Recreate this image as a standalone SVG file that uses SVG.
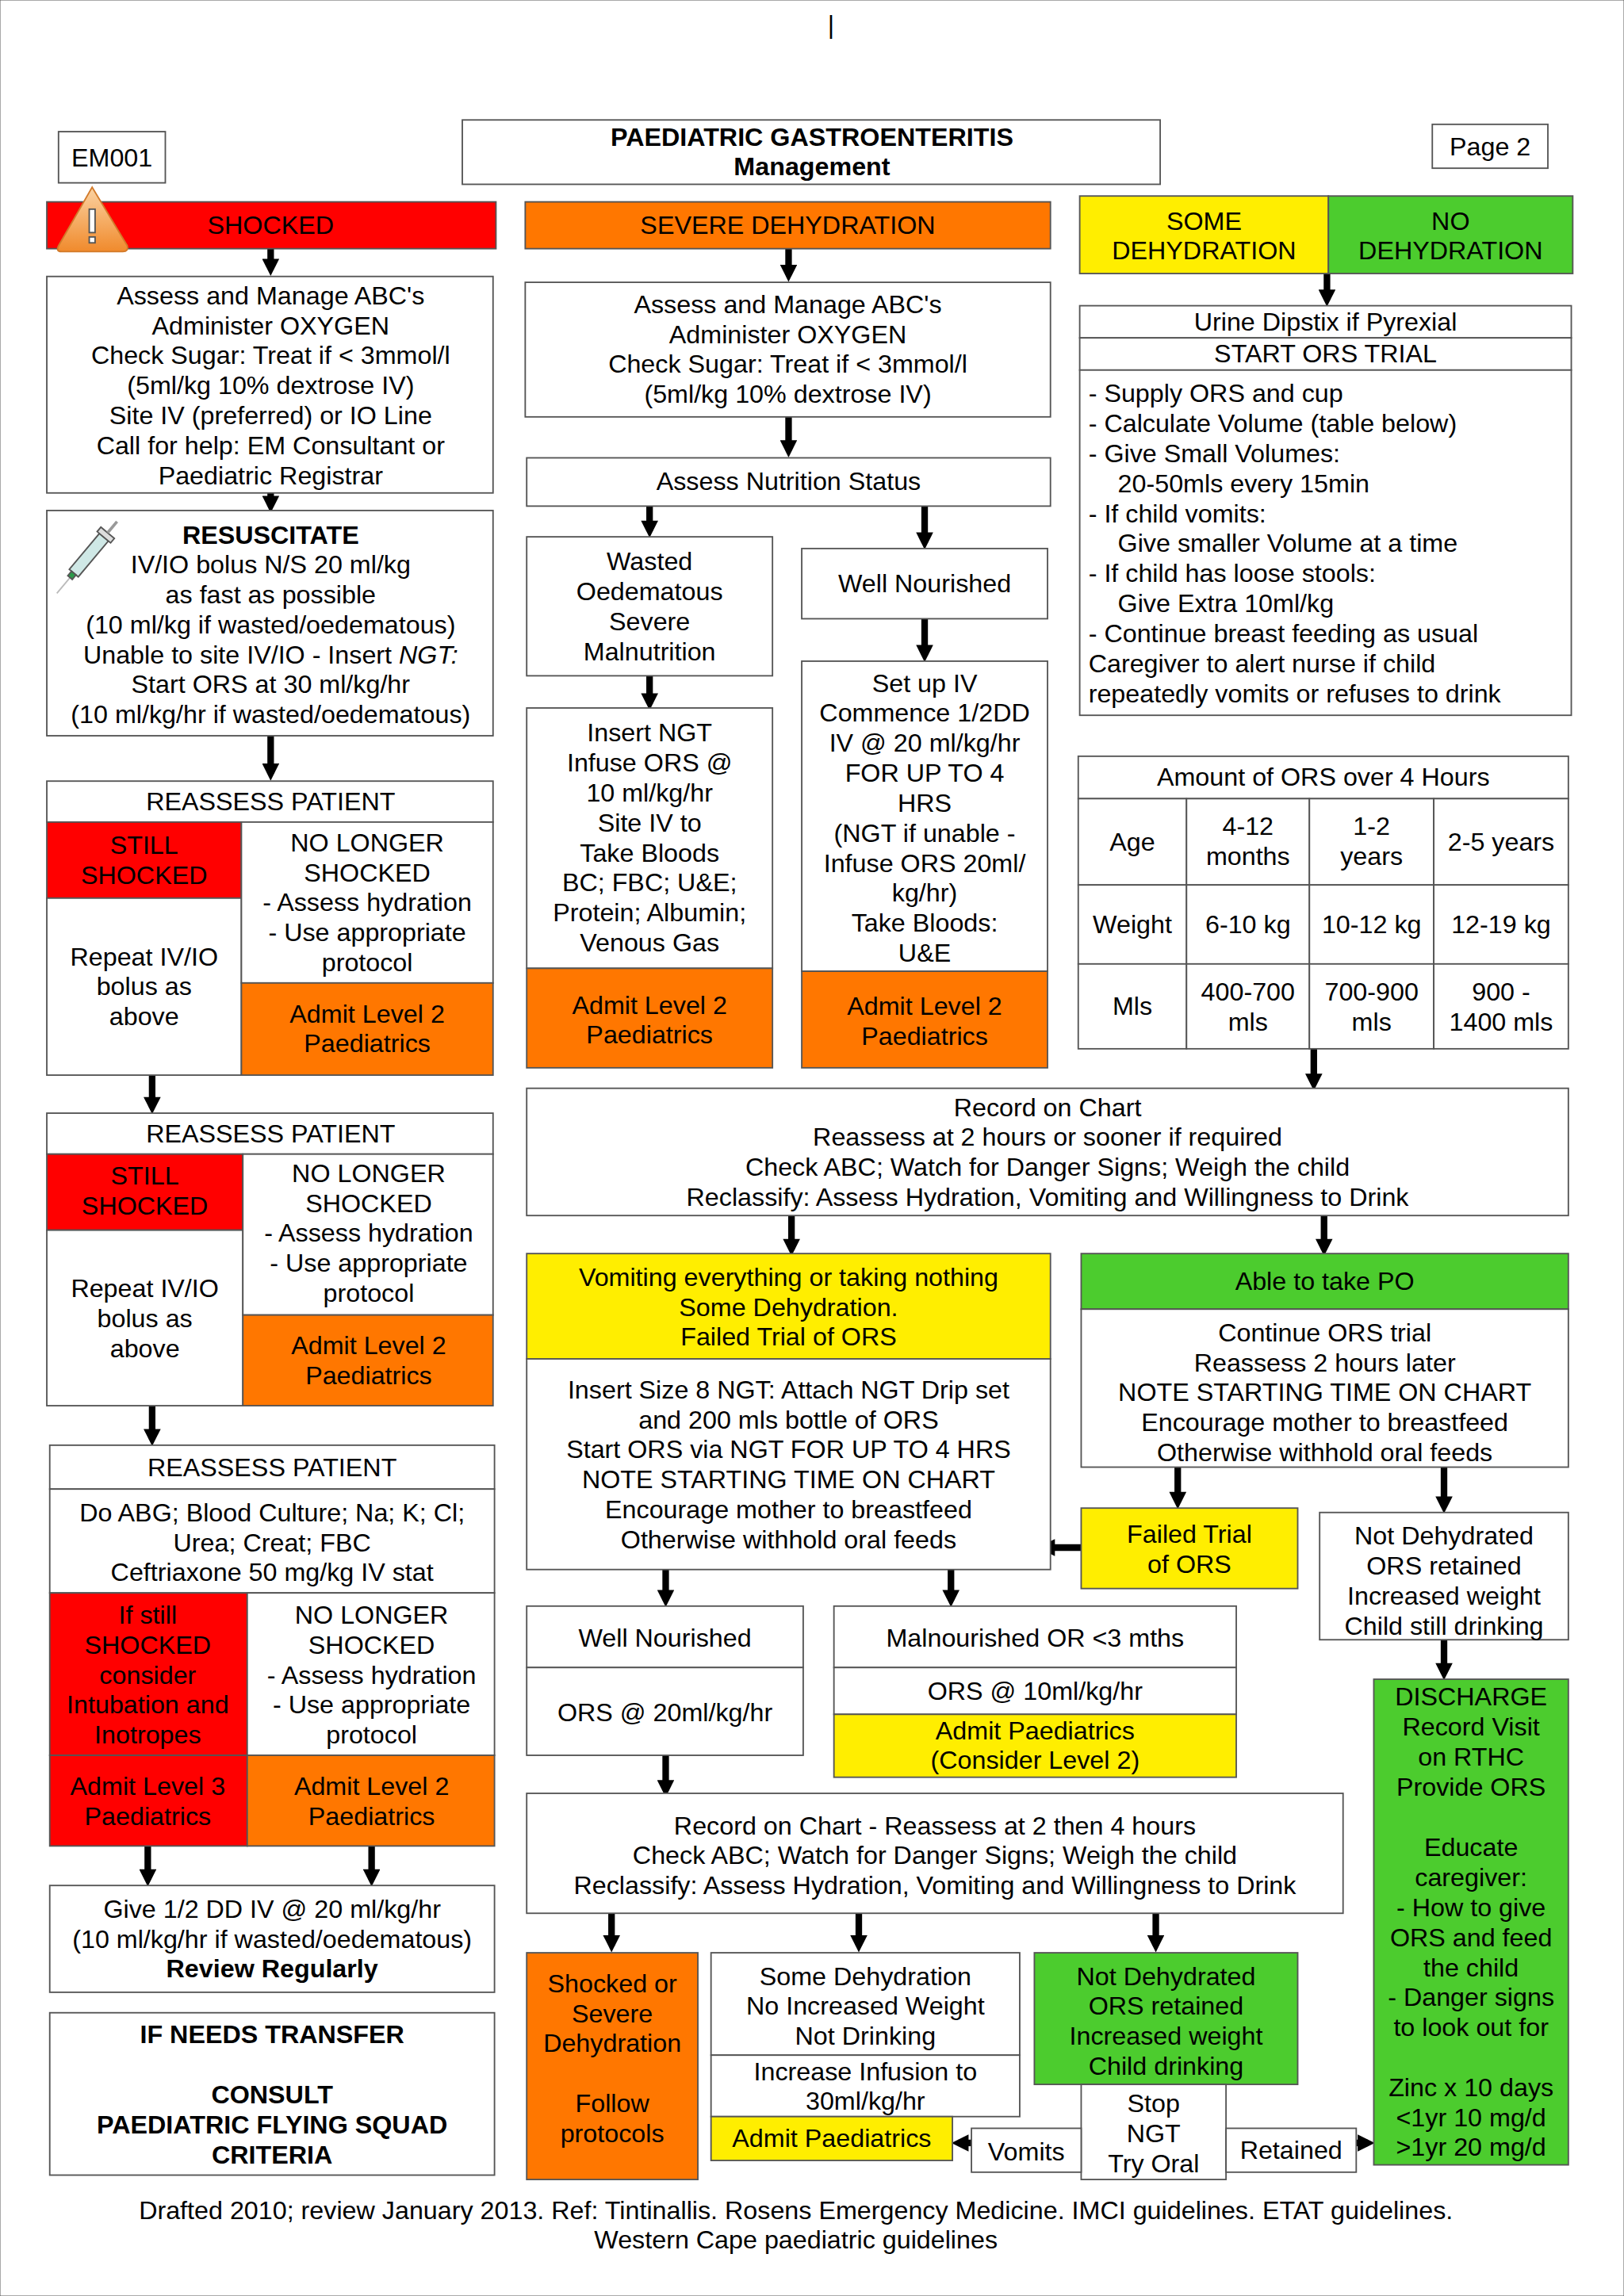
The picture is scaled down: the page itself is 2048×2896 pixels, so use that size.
<svg xmlns="http://www.w3.org/2000/svg" width="2048" height="2896" viewBox="0 0 2048 2896">
<style>
text{font-family:"Liberation Sans",Arial,sans-serif;font-size:17.5px;fill:#000;text-anchor:middle;dominant-baseline:central}
.b{font-weight:bold}
.l{text-anchor:start}
rect{stroke:#555;stroke-width:1}
.w{fill:#fff}.r{fill:#ff0000}.o{fill:#ff7700}.y{fill:#ffee00}.g{fill:#4ccc2e}
.c line{stroke:#000;stroke-width:4.5;marker-end:url(#ah)}
</style>
<defs>
<marker id="ah" viewBox="0 0 10 10" refX="6" refY="5" markerWidth="3" markerHeight="2.6" orient="auto" markerUnits="strokeWidth"><path d="M0,0L10,5L0,10z" fill="#000"/></marker>
<linearGradient id="wg" x1="0" y1="0" x2="0" y2="1"><stop offset="0" stop-color="#fbd3a3"/><stop offset="1" stop-color="#f08a2c"/></linearGradient>
</defs>
<rect x="0" y="0" width="2048" height="2896" fill="#fff" stroke="none"/>
<g transform="scale(1.845)">
<text x="568" y="17">|</text>
<g id="em001"><rect class="w" x="40" y="90" width="73" height="35"/><text x="76.5" y="108">EM001</text></g>
<g id="title"><rect class="w" x="316" y="82" width="477" height="44"/><text class="b" x="555" y="94">PAEDIATRIC GASTROENTERITIS</text><text class="b" x="555" y="114">Management</text></g>
<g id="page"><rect class="w" x="979" y="85" width="79" height="30"/><text x="1018.5" y="100">Page 2</text></g>

<g class="c" id="connectors">
<line x1="185" y1="170" x2="185" y2="184"/>
<line x1="185" y1="337" x2="185" y2="346"/>
<line x1="185" y1="503" x2="185" y2="529"/>
<line x1="104" y1="735" x2="104" y2="757"/>
<line x1="104" y1="961" x2="104" y2="984"/>
<line x1="101" y1="1262" x2="101" y2="1285"/>
<line x1="254" y1="1262" x2="254" y2="1285"/>
<line x1="539" y1="170" x2="539" y2="188"/>
<line x1="539" y1="285" x2="539" y2="308"/>
<line x1="444" y1="346" x2="444" y2="363"/>
<line x1="632" y1="346" x2="632" y2="371"/>
<line x1="444" y1="462" x2="444" y2="481"/>
<line x1="632" y1="423" x2="632" y2="448"/>
<line x1="907" y1="187" x2="907" y2="205"/>
<line x1="898" y1="717" x2="898" y2="741"/>
<line x1="541" y1="831" x2="541" y2="854"/>
<line x1="905" y1="831" x2="905" y2="854"/>
<line x1="805" y1="1003" x2="805" y2="1027"/>
<line x1="987" y1="1003" x2="987" y2="1030"/>
<line x1="739" y1="1058" x2="714" y2="1058"/>
<line x1="455" y1="1072" x2="455" y2="1094"/>
<line x1="650" y1="1072" x2="650" y2="1094"/>
<line x1="455" y1="1200" x2="455" y2="1224"/>
<line x1="418" y1="1308" x2="418" y2="1330"/>
<line x1="587" y1="1308" x2="587" y2="1330"/>
<line x1="790" y1="1308" x2="790" y2="1330"/>
<line x1="987" y1="1121" x2="987" y2="1144"/>
<line x1="664" y1="1465" x2="655" y2="1465"/>
<line x1="927" y1="1465" x2="935" y2="1465"/>
</g>

<!-- Column 1 -->
<g id="shocked"><rect class="r" x="32" y="138" width="307" height="32"/><text x="185" y="154">SHOCKED</text>
<path d="M63,128 L87,168 Q88,172 84,172 L42,172 Q38,172 40,168 Z" fill="url(#wg)" stroke="#d27a2a"/><rect x="61" y="143" width="4" height="16" fill="#fff" stroke="none"/><rect x="61" y="162" width="4" height="4" fill="#fff" stroke="none"/></g>
<g id="abc1"><rect class="w" x="32" y="189" width="305" height="148"/>
<text x="185" y="202">Assess and Manage ABC's</text><text x="185" y="222.5">Administer OXYGEN</text><text x="185" y="243">Check Sugar: Treat if &lt; 3mmol/l</text><text x="185" y="263.5">(5ml/kg 10% dextrose IV)</text><text x="185" y="284">Site IV (preferred) or IO Line</text><text x="185" y="304.5">Call for help: EM Consultant or</text><text x="185" y="325">Paediatric Registrar</text></g>
<g id="resus"><rect class="w" x="32" y="349" width="305" height="154"/>
<g transform="rotate(-50 62 378)"><rect x="44" y="374" width="32" height="8" fill="#cfe8e6" stroke="#888"/><rect x="76" y="372" width="4" height="12" fill="#ddd" stroke="#888"/><line x1="80" y1="378" x2="90" y2="378" stroke="#999" stroke-width="2"/><line x1="44" y1="378" x2="26" y2="378" stroke="#bbb" stroke-width="1"/><rect x="40" y="376" width="4" height="4" fill="#2a9a4a" stroke="none"/></g>
<text class="b" x="185" y="366">RESUSCITATE</text><text x="185" y="386">IV/IO bolus N/S 20 ml/kg</text><text x="185" y="406.5">as fast as possible</text><text x="185" y="427">(10 ml/kg if wasted/oedematous)</text><text x="185" y="447.5">Unable to site IV/IO - Insert <tspan font-style="italic">NGT:</tspan></text><text x="185" y="468">Start ORS at 30 ml/kg/hr</text><text x="185" y="488.5">(10 ml/kg/hr if wasted/oedematous)</text></g>

<g id="reassess1">
<rect class="w" x="32" y="534" width="305" height="28"/><text x="185" y="548">REASSESS PATIENT</text>
<rect class="r" x="32" y="562" width="133" height="52"/><text x="98.5" y="578">STILL</text><text x="98.5" y="598.5">SHOCKED</text>
<rect class="w" x="32" y="614" width="133" height="121"/><text x="98.5" y="654">Repeat IV/IO</text><text x="98.5" y="674.5">bolus as</text><text x="98.5" y="695">above</text>
<rect class="w" x="165" y="562" width="172" height="110"/><text x="251" y="576">NO LONGER</text><text x="251" y="596.5">SHOCKED</text><text x="251" y="617">- Assess hydration</text><text x="251" y="637.5">- Use appropriate</text><text x="251" y="658">protocol</text>
<rect class="o" x="165" y="672" width="172" height="63"/><text x="251" y="693">Admit Level 2</text><text x="251" y="713.5">Paediatrics</text></g>

<g id="reassess2">
<rect class="w" x="32" y="761" width="305" height="28"/><text x="185" y="775">REASSESS PATIENT</text>
<rect class="r" x="32" y="789" width="134" height="52"/><text x="99" y="804">STILL</text><text x="99" y="824.5">SHOCKED</text>
<rect class="w" x="32" y="841" width="134" height="120"/><text x="99" y="881">Repeat IV/IO</text><text x="99" y="901.5">bolus as</text><text x="99" y="922">above</text>
<rect class="w" x="166" y="789" width="171" height="110"/><text x="252" y="802">NO LONGER</text><text x="252" y="822.5">SHOCKED</text><text x="252" y="843">- Assess hydration</text><text x="252" y="863.5">- Use appropriate</text><text x="252" y="884">protocol</text>
<rect class="o" x="166" y="899" width="171" height="62"/><text x="252" y="920">Admit Level 2</text><text x="252" y="940.5">Paediatrics</text></g>

<g id="reassess3">
<rect class="w" x="34" y="988" width="304" height="30"/><text x="186" y="1003">REASSESS PATIENT</text>
<rect class="w" x="34" y="1018" width="304" height="71"/><text x="186" y="1034">Do ABG; Blood Culture; Na; K; Cl;</text><text x="186" y="1054.5">Urea; Creat; FBC</text><text x="186" y="1075">Ceftriaxone 50 mg/kg IV stat</text>
<rect class="r" x="34" y="1089" width="135" height="111"/><text x="101" y="1104">If still</text><text x="101" y="1124.5">SHOCKED</text><text x="101" y="1145">consider</text><text x="101" y="1165.5">Intubation and</text><text x="101" y="1186">Inotropes</text>
<rect class="r" x="34" y="1200" width="135" height="62"/><text x="101" y="1221">Admit Level 3</text><text x="101" y="1241.5">Paediatrics</text>
<rect class="w" x="169" y="1089" width="169" height="111"/><text x="254" y="1104">NO LONGER</text><text x="254" y="1124.5">SHOCKED</text><text x="254" y="1145">- Assess hydration</text><text x="254" y="1165.5">- Use appropriate</text><text x="254" y="1186">protocol</text>
<rect class="o" x="169" y="1200" width="169" height="62"/><text x="254" y="1221">Admit Level 2</text><text x="254" y="1241.5">Paediatrics</text></g>

<g id="givehalf"><rect class="w" x="34" y="1289" width="304" height="73"/><text x="186" y="1305">Give 1/2 DD IV @ 20 ml/kg/hr</text><text x="186" y="1325.5">(10 ml/kg/hr if wasted/oedematous)</text><text class="b" x="186" y="1346">Review Regularly</text></g>
<g id="transfer"><rect class="w" x="34" y="1376" width="304" height="111"/><text class="b" x="186" y="1391">IF NEEDS TRANSFER</text><text class="b" x="186" y="1432">CONSULT</text><text class="b" x="186" y="1452.5">PAEDIATRIC FLYING SQUAD</text><text class="b" x="186" y="1473">CRITERIA</text></g>

<!-- Column 2 -->
<g id="severe"><rect class="o" x="359" y="138" width="359" height="32"/><text x="538.5" y="154">SEVERE DEHYDRATION</text></g>
<g id="abc2"><rect class="w" x="359" y="193" width="359" height="92"/><text x="538.5" y="208">Assess and Manage ABC's</text><text x="538.5" y="228.5">Administer OXYGEN</text><text x="538.5" y="249">Check Sugar: Treat if &lt; 3mmol/l</text><text x="538.5" y="269.5">(5ml/kg 10% dextrose IV)</text></g>
<g id="nutrition"><rect class="w" x="360" y="313" width="358" height="33"/><text x="539" y="329">Assess Nutrition Status</text></g>
<g id="wasted"><rect class="w" x="360" y="367" width="168" height="95"/><text x="444" y="384">Wasted</text><text x="444" y="404.5">Oedematous</text><text x="444" y="425">Severe</text><text x="444" y="445.5">Malnutrition</text></g>
<g id="wellnour1"><rect class="w" x="548" y="375" width="168" height="48"/><text x="632" y="399">Well Nourished</text></g>
<g id="ngt"><rect class="w" x="360" y="484" width="168" height="178"/><text x="444" y="501">Insert NGT</text><text x="444" y="521.5">Infuse ORS @</text><text x="444" y="542">10 ml/kg/hr</text><text x="444" y="562.5">Site IV to</text><text x="444" y="583">Take Bloods</text><text x="444" y="603.5">BC; FBC; U&amp;E;</text><text x="444" y="624">Protein; Albumin;</text><text x="444" y="644.5">Venous Gas</text>
<rect class="o" x="360" y="662" width="168" height="68"/><text x="444" y="687">Admit Level 2</text><text x="444" y="707.5">Paediatrics</text></g>
<g id="setiv"><rect class="w" x="548" y="452" width="168" height="212"/><text x="632" y="467">Set up IV</text><text x="632" y="487.5">Commence 1/2DD</text><text x="632" y="508">IV @ 20 ml/kg/hr</text><text x="632" y="528.5">FOR UP TO 4</text><text x="632" y="549">HRS</text><text x="632" y="569.5">(NGT if unable -</text><text x="632" y="590">Infuse ORS 20ml/</text><text x="632" y="610.5">kg/hr)</text><text x="632" y="631">Take Bloods:</text><text x="632" y="651.5">U&amp;E</text>
<rect class="o" x="548" y="664" width="168" height="66"/><text x="632" y="688">Admit Level 2</text><text x="632" y="708.5">Paediatrics</text></g>

<!-- Column 3 -->
<g id="some"><rect class="y" x="738" y="134" width="170" height="53"/><text x="823" y="151">SOME</text><text x="823" y="171.5">DEHYDRATION</text>
<rect class="g" x="908" y="134" width="167" height="53"/><text x="991.5" y="151">NO</text><text x="991.5" y="171.5">DEHYDRATION</text></g>
<g id="orstrial"><rect class="w" x="738" y="209" width="336" height="22"/><text x="906" y="220">Urine Dipstix if Pyrexial</text>
<rect class="w" x="738" y="231" width="336" height="22"/><text x="906" y="242">START ORS TRIAL</text>
<rect class="w" x="738" y="253" width="336" height="236"/>
<text class="l" x="744" y="269">- Supply ORS and cup</text><text class="l" x="744" y="289.5">- Calculate Volume (table below)</text><text class="l" x="744" y="310">- Give Small Volumes:</text><text class="l" x="764" y="330.5">20-50mls every 15min</text><text class="l" x="744" y="351">- If child vomits:</text><text class="l" x="764" y="371.5">Give smaller Volume at a time</text><text class="l" x="744" y="392">- If child has loose stools:</text><text class="l" x="764" y="412.5">Give Extra 10ml/kg</text><text class="l" x="744" y="433">- Continue breast feeding as usual</text><text class="l" x="744" y="453.5">Caregiver to alert nurse if child</text><text class="l" x="744" y="474">repeatedly vomits or refuses to drink</text></g>
<g id="table"><rect class="w" x="737" y="517" width="335" height="29"/><text x="904.5" y="531">Amount of ORS over 4 Hours</text>
<rect class="w" x="737" y="546" width="74" height="59"/><text x="774" y="575.5">Age</text>
<rect class="w" x="811" y="546" width="84" height="59"/><text x="853" y="565">4-12</text><text x="853" y="585.5">months</text>
<rect class="w" x="895" y="546" width="85" height="59"/><text x="937.5" y="565">1-2</text><text x="937.5" y="585.5">years</text>
<rect class="w" x="980" y="546" width="92" height="59"/><text x="1026" y="575.5">2-5 years</text>
<rect class="w" x="737" y="605" width="74" height="54"/><text x="774" y="632">Weight</text>
<rect class="w" x="811" y="605" width="84" height="54"/><text x="853" y="632">6-10 kg</text>
<rect class="w" x="895" y="605" width="85" height="54"/><text x="937.5" y="632">10-12 kg</text>
<rect class="w" x="980" y="605" width="92" height="54"/><text x="1026" y="632">12-19 kg</text>
<rect class="w" x="737" y="659" width="74" height="58"/><text x="774" y="688">Mls</text>
<rect class="w" x="811" y="659" width="84" height="58"/><text x="853" y="678">400-700</text><text x="853" y="698.5">mls</text>
<rect class="w" x="895" y="659" width="85" height="58"/><text x="937.5" y="678">700-900</text><text x="937.5" y="698.5">mls</text>
<rect class="w" x="980" y="659" width="92" height="58"/><text x="1026" y="678">900 -</text><text x="1026" y="698.5">1400 mls</text></g>

<g id="record1"><rect class="w" x="360" y="744" width="712" height="87"/><text x="716" y="757">Record on Chart</text><text x="716" y="777.5">Reassess at 2 hours or sooner if required</text><text x="716" y="798">Check ABC; Watch for Danger Signs; Weigh the child</text><text x="716" y="818.5">Reclassify: Assess Hydration, Vomiting and Willingness to Drink</text></g>
<g id="vomiting"><rect class="y" x="360" y="857" width="358" height="72"/><text x="539" y="873">Vomiting everything or taking nothing</text><text x="539" y="893.5">Some Dehydration.</text><text x="539" y="914">Failed Trial of ORS</text>
<rect class="w" x="360" y="929" width="358" height="144"/><text x="539" y="950">Insert Size 8 NGT: Attach NGT Drip set</text><text x="539" y="970.5">and 200 mls bottle of ORS</text><text x="539" y="991">Start ORS via NGT FOR UP TO 4 HRS</text><text x="539" y="1011.5">NOTE STARTING TIME ON CHART</text><text x="539" y="1032">Encourage mother to breastfeed</text><text x="539" y="1052.5">Otherwise withhold oral feeds</text></g>
<g id="ablepo"><rect class="g" x="739" y="857" width="333" height="38"/><text x="905.5" y="876">Able to take PO</text>
<rect class="w" x="739" y="895" width="333" height="108"/><text x="905.5" y="911">Continue ORS trial</text><text x="905.5" y="931.5">Reassess 2 hours later</text><text x="905.5" y="952">NOTE STARTING TIME ON CHART</text><text x="905.5" y="972.5">Encourage mother to breastfeed</text><text x="905.5" y="993">Otherwise withhold oral feeds</text></g>
<g id="failed"><rect class="y" x="739" y="1031" width="148" height="55"/><text x="813" y="1049">Failed Trial</text><text x="813" y="1069.5">of ORS</text></g>
<g id="notdehyd1"><rect class="w" x="902" y="1034" width="170" height="87"/><text x="987" y="1050">Not Dehydrated</text><text x="987" y="1070.5">ORS retained</text><text x="987" y="1091">Increased weight</text><text x="987" y="1111.5">Child still drinking</text></g>
<g id="wellnour2"><rect class="w" x="360" y="1098" width="189" height="42"/><text x="454.5" y="1120">Well Nourished</text><rect class="w" x="360" y="1140" width="189" height="60"/><text x="454.5" y="1171">ORS @ 20ml/kg/hr</text></g>
<g id="malnour"><rect class="w" x="570" y="1098" width="275" height="42"/><text x="707.5" y="1120">Malnourished OR &lt;3 mths</text><rect class="w" x="570" y="1140" width="275" height="32"/><text x="707.5" y="1156">ORS @ 10ml/kg/hr</text>
<rect class="y" x="570" y="1172" width="275" height="43"/><text x="707.5" y="1183">Admit Paediatrics</text><text x="707.5" y="1203.5">(Consider Level 2)</text></g>
<g id="record2"><rect class="w" x="360" y="1226" width="558" height="82"/><text x="639" y="1248">Record on Chart - Reassess at 2 then 4 hours</text><text x="639" y="1268.5">Check ABC; Watch for Danger Signs; Weigh the child</text><text x="639" y="1289">Reclassify: Assess Hydration, Vomiting and Willingness to Drink</text></g>
<g id="shockedsevere"><rect class="o" x="360" y="1335" width="117" height="155"/><text x="418.5" y="1356">Shocked or</text><text x="418.5" y="1376.5">Severe</text><text x="418.5" y="1397">Dehydration</text><text x="418.5" y="1438">Follow</text><text x="418.5" y="1458.5">protocols</text></g>
<g id="somedehyd2"><rect class="w" x="486" y="1335" width="211" height="70"/><text x="591.5" y="1351">Some Dehydration</text><text x="591.5" y="1371.5">No Increased Weight</text><text x="591.5" y="1392">Not Drinking</text>
<rect class="w" x="486" y="1405" width="211" height="42"/><text x="591.5" y="1416">Increase Infusion to</text><text x="591.5" y="1436.5">30ml/kg/hr</text>
<rect class="y" x="486" y="1447" width="165" height="30"/><text x="568.5" y="1462">Admit Paediatrics</text></g>
<g id="notdehyd2"><rect class="g" x="707" y="1335" width="180" height="90"/><text x="797" y="1351">Not Dehydrated</text><text x="797" y="1371.5">ORS retained</text><text x="797" y="1392">Increased weight</text><text x="797" y="1412.5">Child drinking</text></g>
<g id="stopngt"><rect class="w" x="739" y="1425" width="99" height="65"/><text x="788.5" y="1438">Stop</text><text x="788.5" y="1458.5">NGT</text><text x="788.5" y="1479">Try Oral</text></g>
<g id="vomits"><rect class="w" x="664" y="1455" width="75" height="30"/><text x="701.5" y="1471">Vomits</text></g>
<g id="retained"><rect class="w" x="838" y="1455" width="89" height="30"/><text x="882.5" y="1470">Retained</text></g>
<g id="discharge"><rect class="g" x="939" y="1148" width="133" height="332"/><text x="1005.5" y="1160">DISCHARGE</text><text x="1005.5" y="1180.5">Record Visit</text><text x="1005.5" y="1201">on RTHC</text><text x="1005.5" y="1221.5">Provide ORS</text><text x="1005.5" y="1263">Educate</text><text x="1005.5" y="1283.5">caregiver:</text><text x="1005.5" y="1304">- How to give</text><text x="1005.5" y="1324.5">ORS and feed</text><text x="1005.5" y="1345">the child</text><text x="1005.5" y="1365.5">- Danger signs</text><text x="1005.5" y="1386">to look out for</text><text x="1005.5" y="1427">Zinc x 10 days</text><text x="1005.5" y="1447.5">&lt;1yr 10 mg/d</text><text x="1005.5" y="1468">&gt;1yr 20 mg/d</text></g>

<g id="footer"><text x="544" y="1511">Drafted 2010; review January 2013.  Ref: Tintinallis. Rosens Emergency Medicine. IMCI guidelines. ETAT guidelines.</text><text x="544" y="1531">Western Cape paediatric guidelines</text></g>
</g>
</svg>
